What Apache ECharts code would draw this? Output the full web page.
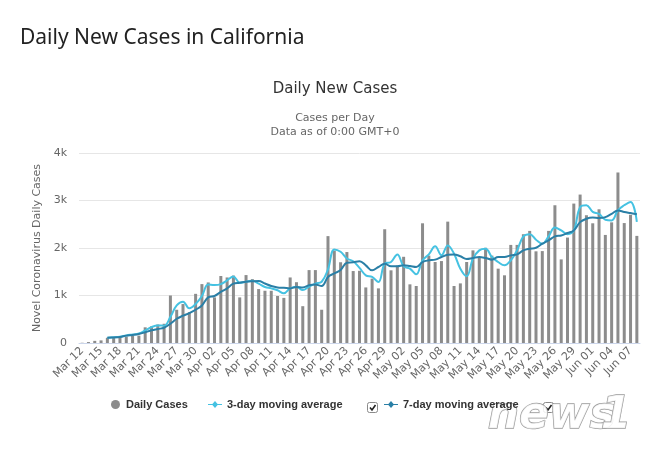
<!DOCTYPE html>
<html>
<head>
<meta charset="utf-8">
<script src="https://cdn.jsdelivr.net/npm/echarts/dist/echarts.min.js"></script>
<style>
  html, body { margin: 0; padding: 0; background: #fff; }
  #chart { width: 658px; height: 456px; }
</style>
</head>
<body>
<div id="chart"></div>
<script>
  var days = [
    'Mar 12', 'Mar 13', 'Mar 14', 'Mar 15', 'Mar 16', 'Mar 17', 'Mar 18', 'Mar 19', 'Mar 20', 'Mar 21',
    'Mar 22', 'Mar 23', 'Mar 24', 'Mar 25', 'Mar 26', 'Mar 27', 'Mar 28', 'Mar 29', 'Mar 30', 'Mar 31',
    'Apr 01', 'Apr 02', 'Apr 03', 'Apr 04', 'Apr 05', 'Apr 06', 'Apr 07', 'Apr 08', 'Apr 09', 'Apr 10',
    'Apr 11', 'Apr 12', 'Apr 13', 'Apr 14', 'Apr 15', 'Apr 16', 'Apr 17', 'Apr 18', 'Apr 19', 'Apr 20',
    'Apr 21', 'Apr 22', 'Apr 23', 'Apr 24', 'Apr 25', 'Apr 26', 'Apr 27', 'Apr 28', 'Apr 29', 'Apr 30',
    'May 01', 'May 02', 'May 03', 'May 04', 'May 05', 'May 06', 'May 07', 'May 08', 'May 09', 'May 10',
    'May 11', 'May 12', 'May 13', 'May 14', 'May 15', 'May 16', 'May 17', 'May 18', 'May 19', 'May 20',
    'May 21', 'May 22', 'May 23', 'May 24', 'May 25', 'May 26', 'May 27', 'May 28', 'May 29', 'May 30',
    'May 31', 'Jun 01', 'Jun 02', 'Jun 03', 'Jun 04', 'Jun 05', 'Jun 06', 'Jun 07', 'Jun 08'
  ];

  var dailyCases = [
    5, 20, 45, 55, 110, 115, 130, 135, 150, 155,
    330, 350, 390, 405, 1000, 700, 820, 650, 1035, 1240,
    1275, 960, 1410, 1380, 1420, 960, 1430, 1345, 1135, 1100,
    1100, 990, 950, 1380, 1280, 775, 1535, 1535, 700, 2250,
    1945, 1700, 1915, 1515, 1520, 1170, 1355, 1150, 2395, 1530,
    1630, 1815, 1235, 1200, 2520, 1840, 1705, 1725, 2555, 1200,
    1255, 1705, 1950, 1810, 2005, 1840, 1565, 1425, 2065, 2065,
    2290, 2360, 1930, 1935, 2360, 2900, 1760, 2220, 2935, 3125,
    2690, 2520, 2815, 2275, 2540, 3590, 2525, 2700, 2255
  ];

  var avg3 = [
    null, null, null, null, 113, 120, 130, 160, 180, 200,
    265, 335, 370, 365, 550, 790, 870, 730, 820, 990,
    1230, 1220, 1240, 1320, 1400, 1270, 1290, 1310, 1250, 1180,
    1150, 1110, 1045, 1150, 1185, 1115, 1185, 1250, 1290, 1550,
    1970, 1920, 1780, 1720, 1580, 1425, 1390, 1285, 1670, 1705,
    1865, 1615, 1565, 1445, 1740, 1865, 2035, 1845, 2055, 1880,
    1565, 1405, 1775, 1950, 1985, 1810, 1705, 1635, 1740, 1950,
    2245, 2290, 2175, 2090, 2245, 2430, 2370, 2290, 2370, 2860,
    2900, 2760, 2720, 2595, 2580, 2795, 2900, 2970, 2550
  ];

  var avg7 = [
    null, null, null, null, 113, 118, 125, 155, 170, 190,
    225, 267, 295, 322, 405, 510, 575, 630, 700, 790,
    960, 990, 1075, 1150, 1250, 1268, 1290, 1300, 1305, 1253,
    1200, 1170, 1162, 1150, 1180, 1170, 1215, 1230, 1200, 1390,
    1465, 1535, 1690, 1700, 1720, 1635, 1530, 1600, 1670, 1615,
    1615, 1635, 1620, 1600, 1705, 1740, 1755, 1810, 1860, 1865,
    1825, 1770, 1790, 1810, 1790, 1755, 1810, 1810, 1845, 1865,
    1950, 1985, 2005, 2090, 2160, 2245, 2265, 2315, 2370, 2545,
    2615, 2640, 2630, 2650, 2720, 2790, 2760, 2735, 2710
  ];

  var yLabels = {0: '0', 1000: '1k', 2000: '2k', 3000: '3k', 4000: '4k'};

  var chartFont = 'DejaVu Sans';
  var lineDiamond = 'path://M0,3.5L5,3.5L8,0L11,3.5L16,3.5L16,4.5L11,4.5L8,8L5,4.5L0,4.5Z';

  function checkBox(x, y) {
    return {
      type: 'group', left: x, top: y,
      children: [
        {type: 'rect', shape: {x: 0, y: 0, width: 10, height: 10, r: 2},
          style: {fill: '#fff', stroke: '#8a8a8a', lineWidth: 1}},
        {type: 'polyline', shape: {points: [[2.5, 5], [4.5, 7.5], [8, 2.5]]},
          style: {fill: null, stroke: '#222', lineWidth: 1.6}}
      ]
    };
  }

  var option = {
    backgroundColor: '#fff',
    animation: false,
    title: [{
      text: 'Daily New Cases in California',
      left: 20, top: 28, padding: 0,
      textStyle: {fontFamily: 'Noto Sans', fontSize: 21, fontWeight: 'normal', color: '#222'}
    }, {
      text: 'Daily New Cases',
      left: 335, top: 82, padding: 0, textAlign: 'center',
      textStyle: {fontFamily: chartFont, fontSize: 15, fontWeight: 'normal', color: '#333'}
    }, {
      text: 'Cases per Day\nData as of 0:00 GMT+0',
      left: 335, top: 111, padding: 0, textAlign: 'center',
      textStyle: {fontFamily: chartFont, fontSize: 11, fontWeight: 'normal', color: '#666', lineHeight: 14}
    }],
    legend: [{
      data: ['Daily Cases'], left: 111, top: 399, padding: 0,
      icon: 'circle', itemWidth: 11, itemHeight: 9,
      textStyle: {fontFamily: 'Liberation Sans', fontSize: 11, fontWeight: 'bold', color: '#333'}
    }, {
      data: ['3-day moving average'], left: 208, top: 399, padding: 0,
      icon: lineDiamond, itemWidth: 14, itemHeight: 8,
      textStyle: {fontFamily: 'Liberation Sans', fontSize: 11, fontWeight: 'bold', color: '#333'}
    }, {
      data: ['7-day moving average'], left: 384, top: 399, padding: 0,
      icon: lineDiamond, itemWidth: 14, itemHeight: 8,
      textStyle: {fontFamily: 'Liberation Sans', fontSize: 11, fontWeight: 'bold', color: '#333'}
    }],
    graphic: [
      checkBox(367, 402),
      checkBox(543, 402),
      {
        type: 'text', left: 487, top: 394,
        style: {text: 'news', font: 'italic bold 44px "DejaVu Sans"', fill: 'rgba(255,255,255,0.85)',
          stroke: '#9a9a9a', lineWidth: 1.4}
      },
      {
        type: 'text', left: 600, top: 394,
        style: {text: '1', font: 'italic bold 44px "DejaVu Sans"', fill: 'rgba(255,255,255,0.85)',
          stroke: '#9a9a9a', lineWidth: 1.4}
      }
    ],
    grid: {left: 79, right: 18, top: 153, bottom: 113},
    xAxis: {
      type: 'category',
      data: days,
      axisLine: {lineStyle: {color: '#ccd6eb'}},
      axisTick: {show: false},
      axisLabel: {
        interval: 2, rotate: 45, margin: 6,
        fontFamily: chartFont, fontSize: 11, color: '#666'
      }
    },
    yAxis: {
      type: 'value',
      min: 0, max: 4000, interval: 1000,
      name: 'Novel Coronavirus Daily Cases',
      nameLocation: 'middle', nameGap: 29,
      nameTextStyle: {fontFamily: chartFont, fontSize: 11, color: '#666'},
      axisLabel: {
        margin: 12, fontFamily: chartFont, fontSize: 11, color: '#666',
        formatter: function (v) { return yLabels[v]; }
      },
      splitLine: {lineStyle: {color: '#e6e6e6'}}
    },
    series: [{
      name: 'Daily Cases',
      type: 'bar',
      barWidth: 3,
      itemStyle: {color: '#8c8c8c'},
      data: dailyCases
    }, {
      name: '3-day moving average',
      type: 'line',
      smooth: 0.4,
      showSymbol: false,
      color: '#45c2e2',
      lineStyle: {width: 2, color: '#45c2e2'},
      data: avg3
    }, {
      name: '7-day moving average',
      type: 'line',
      smooth: 0.4,
      showSymbol: false,
      color: '#2a7fa6',
      lineStyle: {width: 2, color: '#2a7fa6'},
      data: avg7
    }]
  };

  var chart = echarts.init(document.getElementById('chart'));
  chart.setOption(option);
</script>
</body>
</html>
